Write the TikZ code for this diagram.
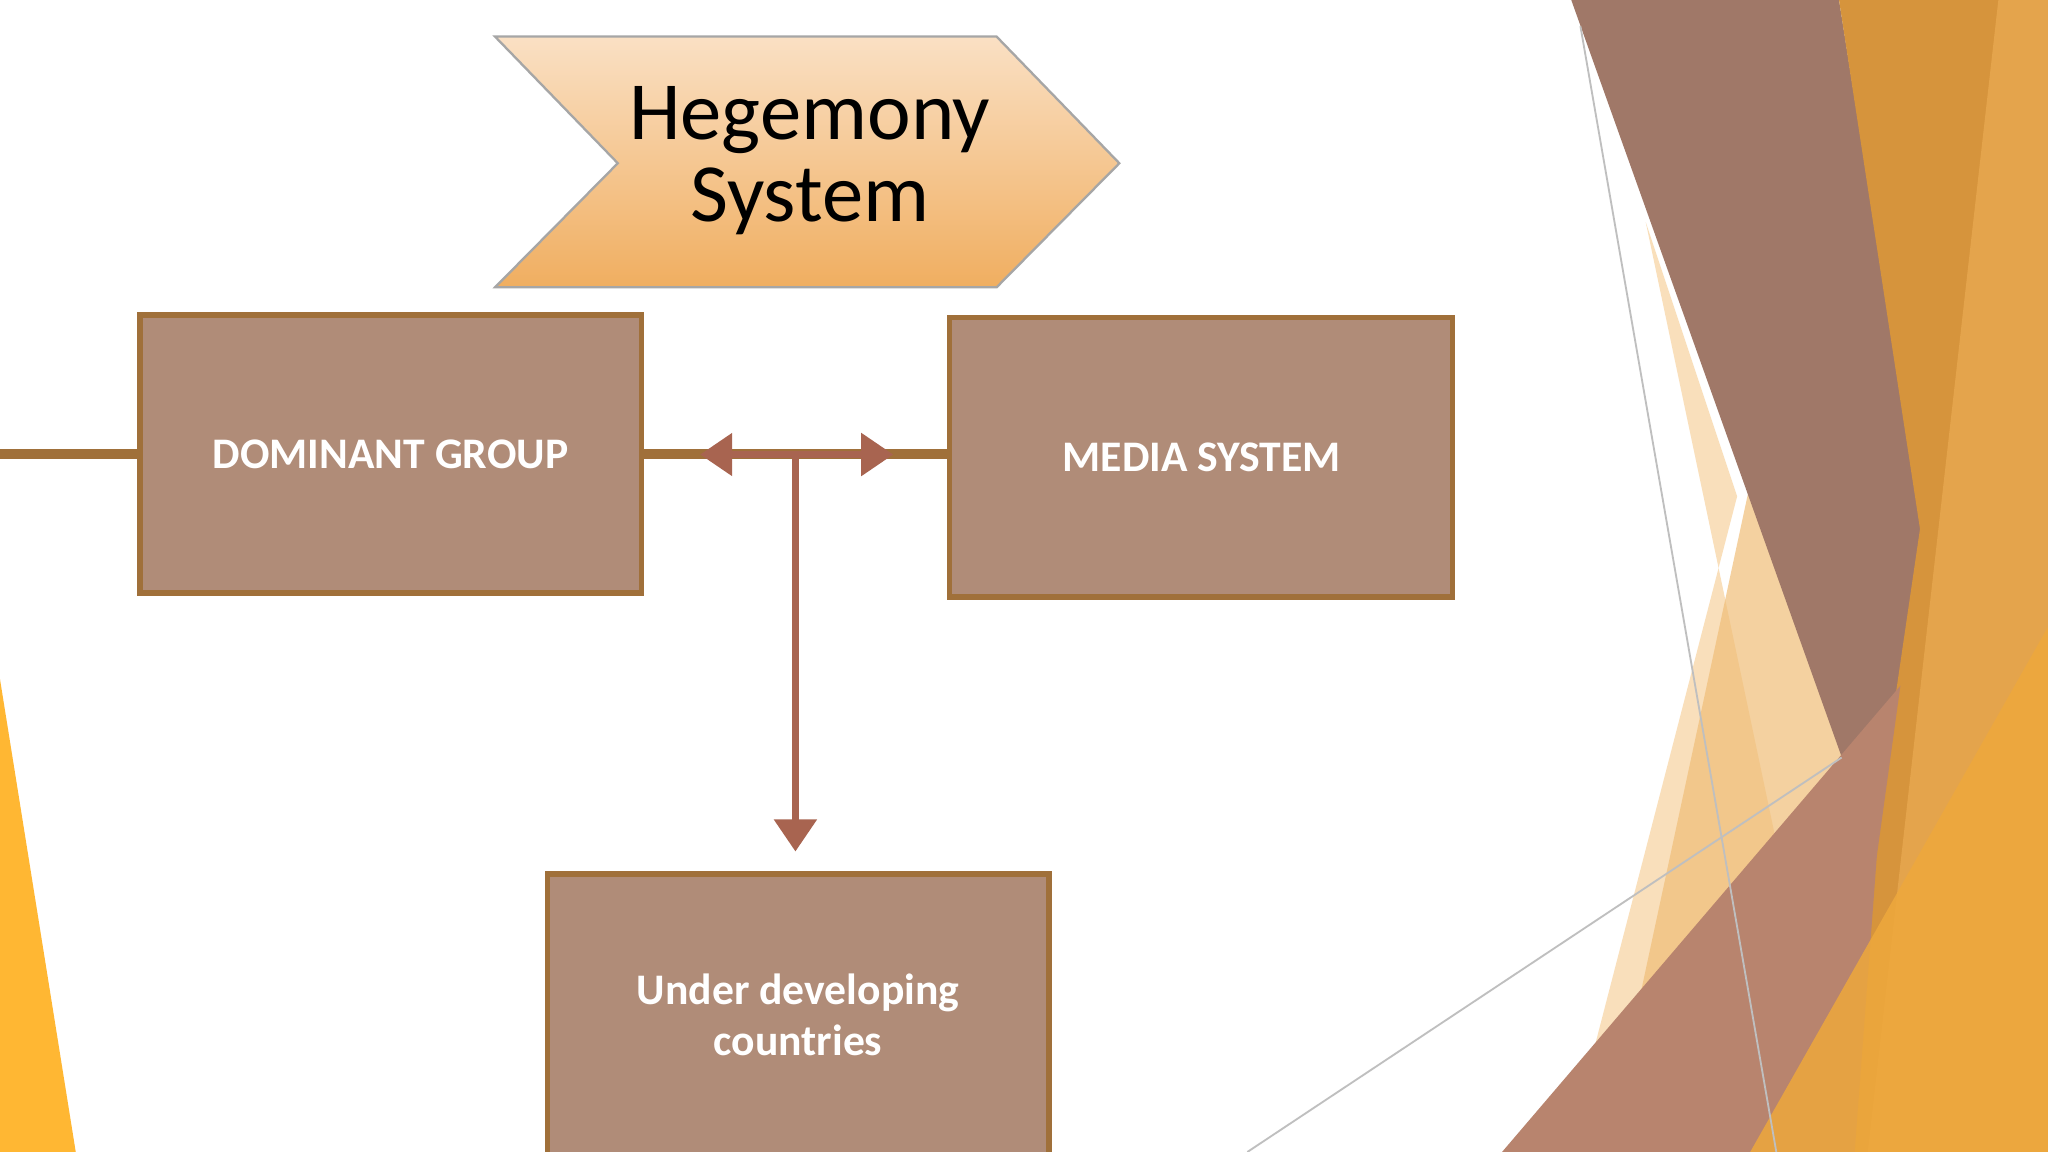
\documentclass[tikz,border=0pt]{standalone}
\usepackage{fontspec}
\setmainfont{Carlito}
\usetikzlibrary{arrows.meta}
\definecolor{boxfill}{HTML}{B08C78}
\definecolor{boxline}{HTML}{A0703A}
\definecolor{arr}{HTML}{A86450}
\tikzset{
 pbox/.style={draw=boxline,line width=1.2pt,fill=boxfill,inner sep=0pt},
 ptext/.style={text=white,font=\bfseries\fontsize{9.5}{11}\selectfont,align=center},
 conn/.style={draw=arr,line width=1.6pt}
}
\begin{document}
\begin{tikzpicture}[x=0.01cm,y=-0.01cm]
\useasboundingbox (0,0) rectangle (1568,882);
\fill[white] (0,0) rectangle (1568,882);
% decorations
\fill[orange!70!yellow,opacity=0.8] (0,520) -- (58,882) -- (0,882) -- cycle;
\fill[color={rgb,255:red,248;green,216;blue,170},opacity=0.8] (1260,170) -- (1410,882) -- (1200,882) -- (1330,380) -- cycle;
\fill[color={rgb,255:red,240;green,190;blue,120},opacity=0.7] (1340,370) -- (1500,560) -- (1440,882) -- (1230,882) -- cycle;
\fill[color={rgb,255:red,160;green,120;blue,104}] (1203,0) -- (1408,0) -- (1472,405) -- (1437,655) -- cycle;
\fill[color={rgb,255:red,214;green,148;blue,60}] (1408,0) -- (1568,0) -- (1568,882) -- (1400,882) -- (1470,405) -- cycle;
\fill[color={rgb,255:red,232;green,168;blue,80},opacity=0.8] (1530,0) -- (1568,0) -- (1568,882) -- (1430,882) -- cycle;
\fill[color={rgb,255:red,184;green,132;blue,110}] (1150,882) -- (1455,525) -- (1437,655) -- (1420,882) -- cycle;
\fill[color={rgb,255:red,238;green,168;blue,60},opacity=0.85] (1340,882) -- (1568,480) -- (1568,882) -- cycle;
\draw[gray!50,line width=0.4pt] (1210,20) -- (1360,882);
\draw[gray!50,line width=0.4pt] (955,882) -- (1410,580);
% chevron
\shade[top color={rgb,255:red,250;green,224;blue,196},bottom color={rgb,255:red,240;green,174;blue,96},draw=gray!70,line width=0.5pt]
 (379,28) -- (763,28) -- (857,125) -- (763,220) -- (379,220) -- (473,125) -- cycle;
\node[font=\fontsize{18}{18}\selectfont,align=center] (title) at (620,123) {Hegemony\\System};
% boxes
\node[pbox,minimum width=384\pgflinewidth] (dg) at (299,347.5) {};
\draw[pbox] (107,241) rectangle (491,454);
\node[ptext] (dgt) at (299,348) {DOMINANT GROUP};
\draw[pbox] (727,243) rectangle (1112,457);
\node[ptext] (ms) at (920,350) {MEDIA SYSTEM};
\draw[pbox] (419,669) rectangle (803,890);
\node[ptext] (ud) at (611,777) {Under developing\\countries};
% connectors
\coordinate (L) at (536,348);
\coordinate (R) at (684,348);
\coordinate (M) at (609,348);
\coordinate (D) at (609,652);
\draw[conn,{Triangle[width=9pt,length=7pt]}-{Triangle[width=9pt,length=7pt]}] (L) -- (R);
\draw[conn,-{Triangle[width=9pt,length=7pt]}] (M) -- (D);
\end{tikzpicture}
\end{document}
